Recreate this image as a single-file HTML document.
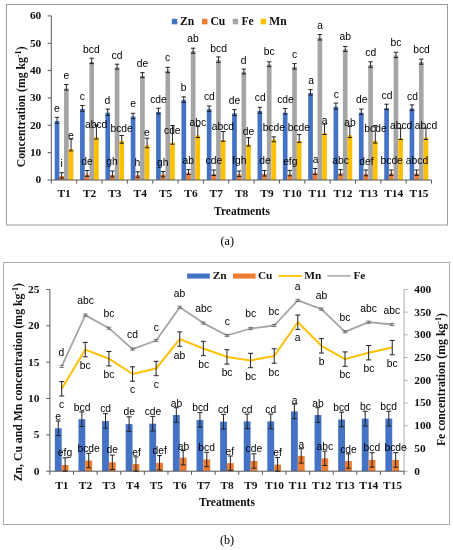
<!DOCTYPE html>
<html lang="en"><head><meta charset="utf-8"><title>Figure</title>
<style>html,body{margin:0;padding:0;background:#fff}svg{display:block}</style>
</head><body>
<svg width="453" height="550" viewBox="0 0 453 550">
<rect width="453" height="550" fill="#fff"/>
<rect x="6.5" y="4.5" width="441" height="220.5" fill="#fff" stroke="#9c9c9c" stroke-width="1"/>
<rect x="54.7" y="121" width="4.67" height="59" fill="#4472C4"/>
<rect x="59.37" y="176" width="4.67" height="4" fill="#ED7D31"/>
<rect x="64.04" y="88.5" width="4.67" height="91.5" fill="#A5A5A5"/>
<rect x="68.71" y="149.1" width="4.67" height="30.9" fill="#FFC000"/>
<path d="M57.03 117.3V123.3M54.83 117.3H59.23M54.83 123.3H59.23" stroke="#222" stroke-width="1.0" fill="none"/>
<path d="M61.7 172.7V178.2M59.5 172.7H63.91M59.5 178.2H63.91" stroke="#222" stroke-width="1.0" fill="none"/>
<path d="M66.37 84.5V90M64.17 84.5H68.57M64.17 90H68.57" stroke="#222" stroke-width="1.0" fill="none"/>
<path d="M71.04 139.1V150.9M68.84 139.1H73.24M68.84 150.9H73.24" stroke="#222" stroke-width="1.0" fill="none"/>
<rect x="80.05" y="109" width="4.67" height="71" fill="#4472C4"/>
<rect x="84.72" y="174.5" width="4.67" height="5.5" fill="#ED7D31"/>
<rect x="89.39" y="62" width="4.67" height="118" fill="#A5A5A5"/>
<rect x="94.06" y="137.3" width="4.67" height="42.7" fill="#FFC000"/>
<path d="M82.39 105.5V111.3M80.19 105.5H84.59M80.19 111.3H84.59" stroke="#222" stroke-width="1.0" fill="none"/>
<path d="M87.06 170.5V176.4M84.86 170.5H89.26M84.86 176.4H89.26" stroke="#222" stroke-width="1.0" fill="none"/>
<path d="M91.73 58.2V63.6M89.53 58.2H93.93M89.53 63.6H93.93" stroke="#222" stroke-width="1.0" fill="none"/>
<path d="M96.4 125V139.1M94.2 125H98.6M94.2 139.1H98.6" stroke="#222" stroke-width="1.0" fill="none"/>
<rect x="105.4" y="112.7" width="4.67" height="67.3" fill="#4472C4"/>
<rect x="110.07" y="174.9" width="4.67" height="5.1" fill="#ED7D31"/>
<rect x="114.74" y="67.5" width="4.67" height="112.5" fill="#A5A5A5"/>
<rect x="119.41" y="140.9" width="4.67" height="39.1" fill="#FFC000"/>
<path d="M107.73 109.1V115.5M105.53 109.1H109.94M105.53 115.5H109.94" stroke="#222" stroke-width="1.0" fill="none"/>
<path d="M112.41 171V177M110.2 171H114.61M110.2 177H114.61" stroke="#222" stroke-width="1.0" fill="none"/>
<path d="M117.08 64.2V69.1M114.88 64.2H119.28M114.88 69.1H119.28" stroke="#222" stroke-width="1.0" fill="none"/>
<path d="M121.75 135.5V143.3M119.55 135.5H123.95M119.55 143.3H123.95" stroke="#222" stroke-width="1.0" fill="none"/>
<rect x="130.75" y="116.5" width="4.67" height="63.5" fill="#4472C4"/>
<rect x="135.42" y="175.1" width="4.67" height="4.9" fill="#ED7D31"/>
<rect x="140.09" y="75.8" width="4.67" height="104.2" fill="#A5A5A5"/>
<rect x="144.76" y="145.5" width="4.67" height="34.5" fill="#FFC000"/>
<path d="M133.09 113.3V118.7M130.89 113.3H135.28M130.89 118.7H135.28" stroke="#222" stroke-width="1.0" fill="none"/>
<path d="M137.75 171.8V177.3M135.56 171.8H139.95M135.56 177.3H139.95" stroke="#222" stroke-width="1.0" fill="none"/>
<path d="M142.43 72.7V77.6M140.23 72.7H144.62M140.23 77.6H144.62" stroke="#222" stroke-width="1.0" fill="none"/>
<path d="M147.09 138.2V147.8M144.9 138.2H149.29M144.9 147.8H149.29" stroke="#222" stroke-width="1.0" fill="none"/>
<rect x="156.1" y="112" width="4.67" height="68" fill="#4472C4"/>
<rect x="160.77" y="174.5" width="4.67" height="5.5" fill="#ED7D31"/>
<rect x="165.44" y="70.5" width="4.67" height="109.5" fill="#A5A5A5"/>
<rect x="170.11" y="142.7" width="4.67" height="37.3" fill="#FFC000"/>
<path d="M158.44 108.2V114M156.24 108.2H160.63M156.24 114H160.63" stroke="#222" stroke-width="1.0" fill="none"/>
<path d="M163.1 171.5V176.9M160.91 171.5H165.3M160.91 176.9H165.3" stroke="#222" stroke-width="1.0" fill="none"/>
<path d="M167.78 67.3V72.7M165.58 67.3H169.97M165.58 72.7H169.97" stroke="#222" stroke-width="1.0" fill="none"/>
<path d="M172.44 125.5V144.2M170.25 125.5H174.64M170.25 144.2H174.64" stroke="#222" stroke-width="1.0" fill="none"/>
<rect x="181.45" y="100" width="4.67" height="80" fill="#4472C4"/>
<rect x="186.12" y="172.7" width="4.67" height="7.3" fill="#ED7D31"/>
<rect x="190.79" y="51" width="4.67" height="129" fill="#A5A5A5"/>
<rect x="195.46" y="135.5" width="4.67" height="44.5" fill="#FFC000"/>
<path d="M183.79 96.9V102.4M181.59 96.9H185.99M181.59 102.4H185.99" stroke="#222" stroke-width="1.0" fill="none"/>
<path d="M188.46 169.6V174.5M186.26 169.6H190.66M186.26 174.5H190.66" stroke="#222" stroke-width="1.0" fill="none"/>
<path d="M193.13 48.2V53.3M190.93 48.2H195.33M190.93 53.3H195.33" stroke="#222" stroke-width="1.0" fill="none"/>
<path d="M197.8 126.4V137.6M195.6 126.4H200M195.6 137.6H200" stroke="#222" stroke-width="1.0" fill="none"/>
<rect x="206.8" y="109.1" width="4.67" height="70.9" fill="#4472C4"/>
<rect x="211.47" y="174" width="4.67" height="6" fill="#ED7D31"/>
<rect x="216.14" y="60" width="4.67" height="120" fill="#A5A5A5"/>
<rect x="220.81" y="140" width="4.67" height="40" fill="#FFC000"/>
<path d="M209.14 106V111.5M206.94 106H211.34M206.94 111.5H211.34" stroke="#222" stroke-width="1.0" fill="none"/>
<path d="M213.81 170V175.5M211.61 170H216.01M211.61 175.5H216.01" stroke="#222" stroke-width="1.0" fill="none"/>
<path d="M218.48 56.9V62.4M216.28 56.9H220.68M216.28 62.4H220.68" stroke="#222" stroke-width="1.0" fill="none"/>
<path d="M223.15 131.5V141.3M220.95 131.5H225.35M220.95 141.3H225.35" stroke="#222" stroke-width="1.0" fill="none"/>
<rect x="232.15" y="113.3" width="4.67" height="66.7" fill="#4472C4"/>
<rect x="236.82" y="174.5" width="4.67" height="5.5" fill="#ED7D31"/>
<rect x="241.49" y="71.8" width="4.67" height="108.2" fill="#A5A5A5"/>
<rect x="246.16" y="144.5" width="4.67" height="35.5" fill="#FFC000"/>
<path d="M234.49 109.6V115.5M232.29 109.6H236.69M232.29 115.5H236.69" stroke="#222" stroke-width="1.0" fill="none"/>
<path d="M239.16 171V176.5M236.96 171H241.35M236.96 176.5H241.35" stroke="#222" stroke-width="1.0" fill="none"/>
<path d="M243.83 69.1V74M241.63 69.1H246.03M241.63 74H246.03" stroke="#222" stroke-width="1.0" fill="none"/>
<path d="M248.5 137.6V146M246.3 137.6H250.69M246.3 146H250.69" stroke="#222" stroke-width="1.0" fill="none"/>
<rect x="257.5" y="110.9" width="4.67" height="69.1" fill="#4472C4"/>
<rect x="262.17" y="174" width="4.67" height="6" fill="#ED7D31"/>
<rect x="266.84" y="64.5" width="4.67" height="115.5" fill="#A5A5A5"/>
<rect x="271.51" y="139.5" width="4.67" height="40.5" fill="#FFC000"/>
<path d="M259.83 107.3V113.3M257.63 107.3H262.03M257.63 113.3H262.03" stroke="#222" stroke-width="1.0" fill="none"/>
<path d="M264.5 170.5V176M262.31 170.5H266.7M262.31 176H266.7" stroke="#222" stroke-width="1.0" fill="none"/>
<path d="M269.17 61.8V66.7M266.97 61.8H271.37M266.97 66.7H271.37" stroke="#222" stroke-width="1.0" fill="none"/>
<path d="M273.84 136.9V141.8M271.64 136.9H276.04M271.64 141.8H276.04" stroke="#222" stroke-width="1.0" fill="none"/>
<rect x="282.85" y="112.7" width="4.67" height="67.3" fill="#4472C4"/>
<rect x="287.52" y="174.5" width="4.67" height="5.5" fill="#ED7D31"/>
<rect x="292.19" y="66.8" width="4.67" height="113.2" fill="#A5A5A5"/>
<rect x="296.86" y="140.9" width="4.67" height="39.1" fill="#FFC000"/>
<path d="M285.18 108.5V114M282.98 108.5H287.38M282.98 114H287.38" stroke="#222" stroke-width="1.0" fill="none"/>
<path d="M289.85 170.4V175.8M287.65 170.4H292.05M287.65 175.8H292.05" stroke="#222" stroke-width="1.0" fill="none"/>
<path d="M294.52 63.6V69.1M292.32 63.6H296.72M292.32 69.1H296.72" stroke="#222" stroke-width="1.0" fill="none"/>
<path d="M299.19 134.5V142.4M296.99 134.5H301.39M296.99 142.4H301.39" stroke="#222" stroke-width="1.0" fill="none"/>
<rect x="308.2" y="93" width="4.67" height="87" fill="#4472C4"/>
<rect x="312.87" y="172.7" width="4.67" height="7.3" fill="#ED7D31"/>
<rect x="317.54" y="37.8" width="4.67" height="142.2" fill="#A5A5A5"/>
<rect x="322.21" y="133.3" width="4.67" height="46.7" fill="#FFC000"/>
<path d="M310.53 89.6V95.1M308.33 89.6H312.73M308.33 95.1H312.73" stroke="#222" stroke-width="1.0" fill="none"/>
<path d="M315.2 168.5V174.5M313 168.5H317.4M313 174.5H317.4" stroke="#222" stroke-width="1.0" fill="none"/>
<path d="M319.87 34.5V40M317.67 34.5H322.07M317.67 40H322.07" stroke="#222" stroke-width="1.0" fill="none"/>
<path d="M324.54 124.2V134.5M322.34 124.2H326.74M322.34 134.5H326.74" stroke="#222" stroke-width="1.0" fill="none"/>
<rect x="333.55" y="106.8" width="4.67" height="73.2" fill="#4472C4"/>
<rect x="338.22" y="173.3" width="4.67" height="6.7" fill="#ED7D31"/>
<rect x="342.89" y="49.3" width="4.67" height="130.7" fill="#A5A5A5"/>
<rect x="347.56" y="135.3" width="4.67" height="44.7" fill="#FFC000"/>
<path d="M335.88 103.1V109.1M333.69 103.1H338.08M333.69 109.1H338.08" stroke="#222" stroke-width="1.0" fill="none"/>
<path d="M340.56 169.6V175.1M338.36 169.6H342.75M338.36 175.1H342.75" stroke="#222" stroke-width="1.0" fill="none"/>
<path d="M345.22 46.4V51.5M343.02 46.4H347.42M343.02 51.5H347.42" stroke="#222" stroke-width="1.0" fill="none"/>
<path d="M349.89 126.4V137.6M347.69 126.4H352.09M347.69 137.6H352.09" stroke="#222" stroke-width="1.0" fill="none"/>
<rect x="358.9" y="112.7" width="4.67" height="67.3" fill="#4472C4"/>
<rect x="363.57" y="174" width="4.67" height="6" fill="#ED7D31"/>
<rect x="368.24" y="65" width="4.67" height="115" fill="#A5A5A5"/>
<rect x="372.91" y="140.9" width="4.67" height="39.1" fill="#FFC000"/>
<path d="M361.24 109.1V114.5M359.04 109.1H363.44M359.04 114.5H363.44" stroke="#222" stroke-width="1.0" fill="none"/>
<path d="M365.91 170V175.8M363.71 170H368.11M363.71 175.8H368.11" stroke="#222" stroke-width="1.0" fill="none"/>
<path d="M370.57 61.8V67.3M368.38 61.8H372.77M368.38 67.3H372.77" stroke="#222" stroke-width="1.0" fill="none"/>
<path d="M375.25 125.5V143.1M373.05 125.5H377.44M373.05 143.1H377.44" stroke="#222" stroke-width="1.0" fill="none"/>
<rect x="384.25" y="108.2" width="4.67" height="71.8" fill="#4472C4"/>
<rect x="388.92" y="173.3" width="4.67" height="6.7" fill="#ED7D31"/>
<rect x="393.59" y="55.5" width="4.67" height="124.5" fill="#A5A5A5"/>
<rect x="398.26" y="138.2" width="4.67" height="41.8" fill="#FFC000"/>
<path d="M386.58 104.2V109.6M384.38 104.2H388.78M384.38 109.6H388.78" stroke="#222" stroke-width="1.0" fill="none"/>
<path d="M391.25 170V175.5M389.06 170H393.45M389.06 175.5H393.45" stroke="#222" stroke-width="1.0" fill="none"/>
<path d="M395.92 52.2V57.6M393.72 52.2H398.12M393.72 57.6H398.12" stroke="#222" stroke-width="1.0" fill="none"/>
<path d="M400.59 128.2V139.5M398.39 128.2H402.79M398.39 139.5H402.79" stroke="#222" stroke-width="1.0" fill="none"/>
<rect x="409.6" y="108.5" width="4.67" height="71.5" fill="#4472C4"/>
<rect x="414.27" y="173.3" width="4.67" height="6.7" fill="#ED7D31"/>
<rect x="418.94" y="62" width="4.67" height="118" fill="#A5A5A5"/>
<rect x="423.61" y="137.6" width="4.67" height="42.4" fill="#FFC000"/>
<path d="M411.94 104.9V110.4M409.74 104.9H414.13M409.74 110.4H414.13" stroke="#222" stroke-width="1.0" fill="none"/>
<path d="M416.61 170V175.5M414.41 170H418.81M414.41 175.5H418.81" stroke="#222" stroke-width="1.0" fill="none"/>
<path d="M421.27 59.1V64.2M419.07 59.1H423.47M419.07 64.2H423.47" stroke="#222" stroke-width="1.0" fill="none"/>
<path d="M425.94 128V139.5M423.75 128H428.14M423.75 139.5H428.14" stroke="#222" stroke-width="1.0" fill="none"/>
<path d="M51.3 15.9V180.0H431.6" stroke="#595959" stroke-width="1" fill="none"/>
<path d="M47.7 180H51.3M47.7 152.65H51.3M47.7 125.3H51.3M47.7 97.95H51.3M47.7 70.6H51.3M47.7 43.25H51.3M47.7 15.9H51.3M51.3 180.0V183.6M76.65 180.0V183.6M102 180.0V183.6M127.35 180.0V183.6M152.7 180.0V183.6M178.05 180.0V183.6M203.4 180.0V183.6M228.75 180.0V183.6M254.1 180.0V183.6M279.45 180.0V183.6M304.8 180.0V183.6M330.15 180.0V183.6M355.5 180.0V183.6M380.85 180.0V183.6M406.2 180.0V183.6M431.55 180.0V183.6" stroke="#595959" stroke-width="1" fill="none"/>
<text x="41.3" y="183.4" text-anchor="end" font-family='"Liberation Serif", "Times New Roman", serif' font-weight="bold" font-size="11.4" fill="#111">0</text>
<text x="41.3" y="156.05" text-anchor="end" font-family='"Liberation Serif", "Times New Roman", serif' font-weight="bold" font-size="11.4" fill="#111">10</text>
<text x="41.3" y="128.7" text-anchor="end" font-family='"Liberation Serif", "Times New Roman", serif' font-weight="bold" font-size="11.4" fill="#111">20</text>
<text x="41.3" y="101.35" text-anchor="end" font-family='"Liberation Serif", "Times New Roman", serif' font-weight="bold" font-size="11.4" fill="#111">30</text>
<text x="41.3" y="74" text-anchor="end" font-family='"Liberation Serif", "Times New Roman", serif' font-weight="bold" font-size="11.4" fill="#111">40</text>
<text x="41.3" y="46.65" text-anchor="end" font-family='"Liberation Serif", "Times New Roman", serif' font-weight="bold" font-size="11.4" fill="#111">50</text>
<text x="41.3" y="19.3" text-anchor="end" font-family='"Liberation Serif", "Times New Roman", serif' font-weight="bold" font-size="11.4" fill="#111">60</text>
<text x="64.17" y="196.9" text-anchor="middle" font-family='"Liberation Serif", "Times New Roman", serif' font-weight="bold" font-size="11.4" fill="#111">T1</text>
<text x="89.53" y="196.9" text-anchor="middle" font-family='"Liberation Serif", "Times New Roman", serif' font-weight="bold" font-size="11.4" fill="#111">T2</text>
<text x="114.88" y="196.9" text-anchor="middle" font-family='"Liberation Serif", "Times New Roman", serif' font-weight="bold" font-size="11.4" fill="#111">T3</text>
<text x="140.22" y="196.9" text-anchor="middle" font-family='"Liberation Serif", "Times New Roman", serif' font-weight="bold" font-size="11.4" fill="#111">T4</text>
<text x="165.57" y="196.9" text-anchor="middle" font-family='"Liberation Serif", "Times New Roman", serif' font-weight="bold" font-size="11.4" fill="#111">T5</text>
<text x="190.93" y="196.9" text-anchor="middle" font-family='"Liberation Serif", "Times New Roman", serif' font-weight="bold" font-size="11.4" fill="#111">T6</text>
<text x="216.27" y="196.9" text-anchor="middle" font-family='"Liberation Serif", "Times New Roman", serif' font-weight="bold" font-size="11.4" fill="#111">T7</text>
<text x="241.62" y="196.9" text-anchor="middle" font-family='"Liberation Serif", "Times New Roman", serif' font-weight="bold" font-size="11.4" fill="#111">T8</text>
<text x="266.98" y="196.9" text-anchor="middle" font-family='"Liberation Serif", "Times New Roman", serif' font-weight="bold" font-size="11.4" fill="#111">T9</text>
<text x="292.32" y="196.9" text-anchor="middle" font-family='"Liberation Serif", "Times New Roman", serif' font-weight="bold" font-size="11.4" fill="#111">T10</text>
<text x="317.68" y="196.9" text-anchor="middle" font-family='"Liberation Serif", "Times New Roman", serif' font-weight="bold" font-size="11.4" fill="#111">T11</text>
<text x="343.03" y="196.9" text-anchor="middle" font-family='"Liberation Serif", "Times New Roman", serif' font-weight="bold" font-size="11.4" fill="#111">T12</text>
<text x="368.38" y="196.9" text-anchor="middle" font-family='"Liberation Serif", "Times New Roman", serif' font-weight="bold" font-size="11.4" fill="#111">T13</text>
<text x="393.73" y="196.9" text-anchor="middle" font-family='"Liberation Serif", "Times New Roman", serif' font-weight="bold" font-size="11.4" fill="#111">T14</text>
<text x="419.08" y="196.9" text-anchor="middle" font-family='"Liberation Serif", "Times New Roman", serif' font-weight="bold" font-size="11.4" fill="#111">T15</text>
<text x="242" y="214.9" text-anchor="middle" font-family='"Liberation Serif", "Times New Roman", serif' font-weight="bold" font-size="11.5" fill="#111">Treatments</text>
<text transform="translate(24.7 106.9) rotate(-90)" text-anchor="middle" font-family='"Liberation Serif", "Times New Roman", serif' font-weight="bold" font-size="11.75" fill="#111">Concentration (mg kg<tspan dy="-3.8" font-size="8">-1</tspan><tspan dy="3.8">)</tspan></text>
<rect x="171.8" y="18.8" width="5.5" height="5.5" fill="#4472C4"/>
<text x="180" y="24.7" text-anchor="start" font-family='"Liberation Serif", "Times New Roman", serif' font-weight="bold" font-size="11.6" fill="#111">Zn</text>
<rect x="202" y="18.8" width="5.5" height="5.5" fill="#ED7D31"/>
<text x="210.5" y="24.7" text-anchor="start" font-family='"Liberation Serif", "Times New Roman", serif' font-weight="bold" font-size="11.6" fill="#111">Cu</text>
<rect x="232.7" y="18.8" width="5.5" height="5.5" fill="#A5A5A5"/>
<text x="241.4" y="24.7" text-anchor="start" font-family='"Liberation Serif", "Times New Roman", serif' font-weight="bold" font-size="11.6" fill="#111">Fe</text>
<rect x="260.6" y="18.8" width="5.5" height="5.5" fill="#FFC000"/>
<text x="269.2" y="24.7" text-anchor="start" font-family='"Liberation Serif", "Times New Roman", serif' font-weight="bold" font-size="11.6" fill="#111">Mn</text>
<text x="56.8" y="111.8" text-anchor="middle" font-family='"Liberation Sans", Arial, sans-serif' font-size="10.3" fill="#000">e</text>
<text x="82.3" y="100.4" text-anchor="middle" font-family='"Liberation Sans", Arial, sans-serif' font-size="10.3" fill="#000">c</text>
<text x="107.4" y="103.6" text-anchor="middle" font-family='"Liberation Sans", Arial, sans-serif' font-size="10.3" fill="#000">d</text>
<text x="133.1" y="107.3" text-anchor="middle" font-family='"Liberation Sans", Arial, sans-serif' font-size="10.3" fill="#000">e</text>
<text x="158.5" y="103.3" text-anchor="middle" font-family='"Liberation Sans", Arial, sans-serif' font-size="10.3" fill="#000">cde</text>
<text x="183.6" y="90.9" text-anchor="middle" font-family='"Liberation Sans", Arial, sans-serif' font-size="10.3" fill="#000">b</text>
<text x="209.4" y="99.5" text-anchor="middle" font-family='"Liberation Sans", Arial, sans-serif' font-size="10.3" fill="#000">cd</text>
<text x="234.6" y="104.2" text-anchor="middle" font-family='"Liberation Sans", Arial, sans-serif' font-size="10.3" fill="#000">de</text>
<text x="260.3" y="101.4" text-anchor="middle" font-family='"Liberation Sans", Arial, sans-serif' font-size="10.3" fill="#000">cd</text>
<text x="285.5" y="102.7" text-anchor="middle" font-family='"Liberation Sans", Arial, sans-serif' font-size="10.3" fill="#000">cde</text>
<text x="311" y="83.6" text-anchor="middle" font-family='"Liberation Sans", Arial, sans-serif' font-size="10.3" fill="#000">a</text>
<text x="336.4" y="97.5" text-anchor="middle" font-family='"Liberation Sans", Arial, sans-serif' font-size="10.3" fill="#000">c</text>
<text x="361.8" y="103.1" text-anchor="middle" font-family='"Liberation Sans", Arial, sans-serif' font-size="10.3" fill="#000">de</text>
<text x="387" y="98.7" text-anchor="middle" font-family='"Liberation Sans", Arial, sans-serif' font-size="10.3" fill="#000">cd</text>
<text x="412.5" y="99.5" text-anchor="middle" font-family='"Liberation Sans", Arial, sans-serif' font-size="10.3" fill="#000">cd</text>
<text x="66.3" y="79.1" text-anchor="middle" font-family='"Liberation Sans", Arial, sans-serif' font-size="10.3" fill="#000">e</text>
<text x="91.4" y="52.7" text-anchor="middle" font-family='"Liberation Sans", Arial, sans-serif' font-size="10.3" fill="#000">bcd</text>
<text x="117" y="58.5" text-anchor="middle" font-family='"Liberation Sans", Arial, sans-serif' font-size="10.3" fill="#000">cd</text>
<text x="142.4" y="66.7" text-anchor="middle" font-family='"Liberation Sans", Arial, sans-serif' font-size="10.3" fill="#000">de</text>
<text x="167.6" y="60.9" text-anchor="middle" font-family='"Liberation Sans", Arial, sans-serif' font-size="10.3" fill="#000">c</text>
<text x="192.9" y="42.4" text-anchor="middle" font-family='"Liberation Sans", Arial, sans-serif' font-size="10.3" fill="#000">ab</text>
<text x="218.6" y="51.5" text-anchor="middle" font-family='"Liberation Sans", Arial, sans-serif' font-size="10.3" fill="#000">bcd</text>
<text x="243.7" y="63.6" text-anchor="middle" font-family='"Liberation Sans", Arial, sans-serif' font-size="10.3" fill="#000">d</text>
<text x="269.2" y="55.1" text-anchor="middle" font-family='"Liberation Sans", Arial, sans-serif' font-size="10.3" fill="#000">bc</text>
<text x="294.5" y="58.2" text-anchor="middle" font-family='"Liberation Sans", Arial, sans-serif' font-size="10.3" fill="#000">c</text>
<text x="320" y="28.5" text-anchor="middle" font-family='"Liberation Sans", Arial, sans-serif' font-size="10.3" fill="#000">a</text>
<text x="345.3" y="40" text-anchor="middle" font-family='"Liberation Sans", Arial, sans-serif' font-size="10.3" fill="#000">ab</text>
<text x="370.8" y="55.8" text-anchor="middle" font-family='"Liberation Sans", Arial, sans-serif' font-size="10.3" fill="#000">cd</text>
<text x="396" y="46.4" text-anchor="middle" font-family='"Liberation Sans", Arial, sans-serif' font-size="10.3" fill="#000">bc</text>
<text x="421.5" y="53.3" text-anchor="middle" font-family='"Liberation Sans", Arial, sans-serif' font-size="10.3" fill="#000">bcd</text>
<text x="61.7" y="166.9" text-anchor="middle" font-family='"Liberation Sans", Arial, sans-serif' font-size="10.3" fill="#000">i</text>
<text x="87" y="165.1" text-anchor="middle" font-family='"Liberation Sans", Arial, sans-serif' font-size="10.3" fill="#000">de</text>
<text x="112.1" y="165.1" text-anchor="middle" font-family='"Liberation Sans", Arial, sans-serif' font-size="10.3" fill="#000">gh</text>
<text x="137.3" y="165.5" text-anchor="middle" font-family='"Liberation Sans", Arial, sans-serif' font-size="10.3" fill="#000">h</text>
<text x="162.8" y="165.5" text-anchor="middle" font-family='"Liberation Sans", Arial, sans-serif' font-size="10.3" fill="#000">gh</text>
<text x="188.2" y="163.6" text-anchor="middle" font-family='"Liberation Sans", Arial, sans-serif' font-size="10.3" fill="#000">ab</text>
<text x="213.9" y="164.2" text-anchor="middle" font-family='"Liberation Sans", Arial, sans-serif' font-size="10.3" fill="#000">cde</text>
<text x="239.4" y="164.2" text-anchor="middle" font-family='"Liberation Sans", Arial, sans-serif' font-size="10.3" fill="#000">fgh</text>
<text x="265" y="164.2" text-anchor="middle" font-family='"Liberation Sans", Arial, sans-serif' font-size="10.3" fill="#000">de</text>
<text x="290.3" y="164.9" text-anchor="middle" font-family='"Liberation Sans", Arial, sans-serif' font-size="10.3" fill="#000">efg</text>
<text x="315.5" y="162.7" text-anchor="middle" font-family='"Liberation Sans", Arial, sans-serif' font-size="10.3" fill="#000">a</text>
<text x="340.6" y="163.6" text-anchor="middle" font-family='"Liberation Sans", Arial, sans-serif' font-size="10.3" fill="#000">abc</text>
<text x="366.5" y="164.5" text-anchor="middle" font-family='"Liberation Sans", Arial, sans-serif' font-size="10.3" fill="#000">def</text>
<text x="391.7" y="164.2" text-anchor="middle" font-family='"Liberation Sans", Arial, sans-serif' font-size="10.3" fill="#000">bcde</text>
<text x="417" y="164.2" text-anchor="middle" font-family='"Liberation Sans", Arial, sans-serif' font-size="10.3" fill="#000">abcd</text>
<text x="70.8" y="139.1" text-anchor="middle" font-family='"Liberation Sans", Arial, sans-serif' font-size="10.3" fill="#000">e</text>
<text x="96.2" y="128.2" text-anchor="middle" font-family='"Liberation Sans", Arial, sans-serif' font-size="10.3" fill="#000">abcd</text>
<text x="121.6" y="132.3" text-anchor="middle" font-family='"Liberation Sans", Arial, sans-serif' font-size="10.3" fill="#000">bcde</text>
<text x="146.9" y="136.4" text-anchor="middle" font-family='"Liberation Sans", Arial, sans-serif' font-size="10.3" fill="#000">e</text>
<text x="172.3" y="133.6" text-anchor="middle" font-family='"Liberation Sans", Arial, sans-serif' font-size="10.3" fill="#000">cde</text>
<text x="197.8" y="126.4" text-anchor="middle" font-family='"Liberation Sans", Arial, sans-serif' font-size="10.3" fill="#000">abc</text>
<text x="222.9" y="129.6" text-anchor="middle" font-family='"Liberation Sans", Arial, sans-serif' font-size="10.3" fill="#000">abcd</text>
<text x="248.4" y="134.5" text-anchor="middle" font-family='"Liberation Sans", Arial, sans-serif' font-size="10.3" fill="#000">de</text>
<text x="273.8" y="130.9" text-anchor="middle" font-family='"Liberation Sans", Arial, sans-serif' font-size="10.3" fill="#000">bcde</text>
<text x="298.9" y="130.9" text-anchor="middle" font-family='"Liberation Sans", Arial, sans-serif' font-size="10.3" fill="#000">bcde</text>
<text x="324.5" y="123.6" text-anchor="middle" font-family='"Liberation Sans", Arial, sans-serif' font-size="10.3" fill="#000">a</text>
<text x="350" y="125.5" text-anchor="middle" font-family='"Liberation Sans", Arial, sans-serif' font-size="10.3" fill="#000">ab</text>
<text x="375.5" y="131.8" text-anchor="middle" font-family='"Liberation Sans", Arial, sans-serif' font-size="10.3" fill="#000">bcde</text>
<text x="401.2" y="128.5" text-anchor="middle" font-family='"Liberation Sans", Arial, sans-serif' font-size="10.3" fill="#000">abcd</text>
<text x="426" y="128.5" text-anchor="middle" font-family='"Liberation Sans", Arial, sans-serif' font-size="10.3" fill="#000">abcd</text>
<text x="227.3" y="245.2" text-anchor="middle" font-family='"Liberation Serif", "Times New Roman", serif' font-size="12.2" fill="#000">(a)</text>
<rect x="3.5" y="262.5" width="446" height="262" fill="#fff" stroke="#ababab" stroke-width="1"/>
<rect x="54.85" y="428.3" width="6.85" height="42.9" fill="#4472C4"/>
<rect x="61.7" y="465" width="6.85" height="6.2" fill="#ED7D31"/>
<rect x="78.46" y="419.2" width="6.85" height="52" fill="#4472C4"/>
<rect x="85.31" y="460.5" width="6.85" height="10.7" fill="#ED7D31"/>
<rect x="102.07" y="421" width="6.85" height="50.2" fill="#4472C4"/>
<rect x="108.92" y="462.3" width="6.85" height="8.9" fill="#ED7D31"/>
<rect x="125.68" y="424.1" width="6.85" height="47.1" fill="#4472C4"/>
<rect x="132.53" y="464.1" width="6.85" height="7.1" fill="#ED7D31"/>
<rect x="149.29" y="423.7" width="6.85" height="47.5" fill="#4472C4"/>
<rect x="156.14" y="462.8" width="6.85" height="8.4" fill="#ED7D31"/>
<rect x="172.9" y="415" width="6.85" height="56.2" fill="#4472C4"/>
<rect x="179.75" y="457.7" width="6.85" height="13.5" fill="#ED7D31"/>
<rect x="196.51" y="419.9" width="6.85" height="51.3" fill="#4472C4"/>
<rect x="203.36" y="459.5" width="6.85" height="11.7" fill="#ED7D31"/>
<rect x="220.12" y="421.7" width="6.85" height="49.5" fill="#4472C4"/>
<rect x="226.97" y="463.2" width="6.85" height="8" fill="#ED7D31"/>
<rect x="243.73" y="421.4" width="6.85" height="49.8" fill="#4472C4"/>
<rect x="250.58" y="461" width="6.85" height="10.2" fill="#ED7D31"/>
<rect x="267.34" y="421.4" width="6.85" height="49.8" fill="#4472C4"/>
<rect x="274.19" y="464.6" width="6.85" height="6.6" fill="#ED7D31"/>
<rect x="290.95" y="411.4" width="6.85" height="59.8" fill="#4472C4"/>
<rect x="297.8" y="455.9" width="6.85" height="15.3" fill="#ED7D31"/>
<rect x="314.56" y="415" width="6.85" height="56.2" fill="#4472C4"/>
<rect x="321.41" y="458.3" width="6.85" height="12.9" fill="#ED7D31"/>
<rect x="338.17" y="419.5" width="6.85" height="51.7" fill="#4472C4"/>
<rect x="345.02" y="461" width="6.85" height="10.2" fill="#ED7D31"/>
<rect x="361.78" y="418.6" width="6.85" height="52.6" fill="#4472C4"/>
<rect x="368.63" y="459.9" width="6.85" height="11.3" fill="#ED7D31"/>
<rect x="385.39" y="418.6" width="6.85" height="52.6" fill="#4472C4"/>
<rect x="392.24" y="459.9" width="6.85" height="11.3" fill="#ED7D31"/>
<path d="M404.1 289.2V471.2M404.1 471.2H407.7M404.1 448.47H407.7M404.1 425.75H407.7M404.1 403.02H407.7M404.1 380.3H407.7M404.1 357.57H407.7M404.1 334.85H407.7M404.1 312.12H407.7M404.1 289.4H407.7" stroke="#ADADAD" stroke-width="1" fill="none"/>
<path d="M49.9 289.2V471.2H404.6M46.3 471.2H49.9M46.3 434.85H49.9M46.3 398.5H49.9M46.3 362.15H49.9M46.3 325.8H49.9M46.3 289.45H49.9M49.9 471.2V474.8M73.51 471.2V474.8M97.12 471.2V474.8M120.73 471.2V474.8M144.34 471.2V474.8M167.95 471.2V474.8M191.56 471.2V474.8M215.17 471.2V474.8M238.78 471.2V474.8M262.39 471.2V474.8M286 471.2V474.8M309.61 471.2V474.8M333.22 471.2V474.8M356.83 471.2V474.8M380.44 471.2V474.8M404.05 471.2V474.8" stroke="#595959" stroke-width="1" fill="none"/>
<polyline points="61.7,388.8 85.31,349.6 108.92,358.7 132.53,374 156.14,368.5 179.75,339.1 203.36,348.5 226.97,356.9 250.58,360.5 274.19,356 297.8,322.2 321.41,345.8 345.02,359.1 368.63,352.7 392.24,347.6" fill="none" stroke="#FFC000" stroke-width="2" stroke-linejoin="round"/>
<polyline points="61.7,366.4 85.31,315.1 108.92,328.2 132.53,349.1 156.14,340.5 179.75,307.3 203.36,323.1 226.97,335.5 250.58,328.5 274.19,325.5 297.8,300.4 321.41,309.1 345.02,331.8 368.63,322.2 392.24,324.5" fill="none" stroke="#A5A5A5" stroke-width="1.8" stroke-linejoin="round"/>
<path d="M58.28 421V435.6M55.78 421H60.78M55.78 435.6H60.78" stroke="#222" stroke-width="1.0" fill="none"/>
<path d="M65.12 457.8V471.2M62.62 457.8H67.62M62.62 471.2H67.62" stroke="#222" stroke-width="1.0" fill="none"/>
<path d="M61.7 381.6V396M59.2 381.6H64.2M59.2 396H64.2" stroke="#222" stroke-width="1.0" fill="none"/>
<path d="M61.7 365.3V367.5M59.2 365.3H64.2M59.2 367.5H64.2" stroke="#555" stroke-width="0.7" fill="none"/>
<path d="M81.89 411.9V426.5M79.39 411.9H84.39M79.39 426.5H84.39" stroke="#222" stroke-width="1.0" fill="none"/>
<path d="M88.73 453.3V467.7M86.23 453.3H91.23M86.23 467.7H91.23" stroke="#222" stroke-width="1.0" fill="none"/>
<path d="M85.31 342.4V356.8M82.81 342.4H87.81M82.81 356.8H87.81" stroke="#222" stroke-width="1.0" fill="none"/>
<path d="M85.31 314V316.2M82.81 314H87.81M82.81 316.2H87.81" stroke="#555" stroke-width="0.7" fill="none"/>
<path d="M105.5 413.7V428.3M103 413.7H108M103 428.3H108" stroke="#222" stroke-width="1.0" fill="none"/>
<path d="M112.34 455.1V469.5M109.84 455.1H114.84M109.84 469.5H114.84" stroke="#222" stroke-width="1.0" fill="none"/>
<path d="M108.92 351.5V365.9M106.42 351.5H111.42M106.42 365.9H111.42" stroke="#222" stroke-width="1.0" fill="none"/>
<path d="M108.92 327.1V329.3M106.42 327.1H111.42M106.42 329.3H111.42" stroke="#555" stroke-width="0.7" fill="none"/>
<path d="M129.1 416.8V431.4M126.6 416.8H131.6M126.6 431.4H131.6" stroke="#222" stroke-width="1.0" fill="none"/>
<path d="M135.96 456.9V471.2M133.46 456.9H138.46M133.46 471.2H138.46" stroke="#222" stroke-width="1.0" fill="none"/>
<path d="M132.53 366.8V381.2M130.03 366.8H135.03M130.03 381.2H135.03" stroke="#222" stroke-width="1.0" fill="none"/>
<path d="M132.53 348V350.2M130.03 348H135.03M130.03 350.2H135.03" stroke="#555" stroke-width="0.7" fill="none"/>
<path d="M152.71 416.4V431M150.21 416.4H155.21M150.21 431H155.21" stroke="#222" stroke-width="1.0" fill="none"/>
<path d="M159.56 455.6V470M157.06 455.6H162.06M157.06 470H162.06" stroke="#222" stroke-width="1.0" fill="none"/>
<path d="M156.14 361.3V375.7M153.64 361.3H158.64M153.64 375.7H158.64" stroke="#222" stroke-width="1.0" fill="none"/>
<path d="M156.14 339.4V341.6M153.64 339.4H158.64M153.64 341.6H158.64" stroke="#555" stroke-width="0.7" fill="none"/>
<path d="M176.32 407.7V422.3M173.82 407.7H178.82M173.82 422.3H178.82" stroke="#222" stroke-width="1.0" fill="none"/>
<path d="M183.18 450.5V464.9M180.68 450.5H185.68M180.68 464.9H185.68" stroke="#222" stroke-width="1.0" fill="none"/>
<path d="M179.75 331.9V346.3M177.25 331.9H182.25M177.25 346.3H182.25" stroke="#222" stroke-width="1.0" fill="none"/>
<path d="M179.75 306.2V308.4M177.25 306.2H182.25M177.25 308.4H182.25" stroke="#555" stroke-width="0.7" fill="none"/>
<path d="M199.94 412.6V427.2M197.44 412.6H202.44M197.44 427.2H202.44" stroke="#222" stroke-width="1.0" fill="none"/>
<path d="M206.79 452.3V466.7M204.29 452.3H209.29M204.29 466.7H209.29" stroke="#222" stroke-width="1.0" fill="none"/>
<path d="M203.36 341.3V355.7M200.86 341.3H205.86M200.86 355.7H205.86" stroke="#222" stroke-width="1.0" fill="none"/>
<path d="M203.36 322V324.2M200.86 322H205.86M200.86 324.2H205.86" stroke="#555" stroke-width="0.7" fill="none"/>
<path d="M223.54 414.4V429M221.04 414.4H226.04M221.04 429H226.04" stroke="#222" stroke-width="1.0" fill="none"/>
<path d="M230.39 456V470.4M227.89 456H232.89M227.89 470.4H232.89" stroke="#222" stroke-width="1.0" fill="none"/>
<path d="M226.97 349.7V364.1M224.47 349.7H229.47M224.47 364.1H229.47" stroke="#222" stroke-width="1.0" fill="none"/>
<path d="M226.97 334.4V336.6M224.47 334.4H229.47M224.47 336.6H229.47" stroke="#555" stroke-width="0.7" fill="none"/>
<path d="M247.15 414.1V428.7M244.65 414.1H249.65M244.65 428.7H249.65" stroke="#222" stroke-width="1.0" fill="none"/>
<path d="M254 453.8V468.2M251.5 453.8H256.5M251.5 468.2H256.5" stroke="#222" stroke-width="1.0" fill="none"/>
<path d="M250.58 353.3V367.7M248.08 353.3H253.08M248.08 367.7H253.08" stroke="#222" stroke-width="1.0" fill="none"/>
<path d="M250.58 327.4V329.6M248.08 327.4H253.08M248.08 329.6H253.08" stroke="#555" stroke-width="0.7" fill="none"/>
<path d="M270.76 414.1V428.7M268.26 414.1H273.26M268.26 428.7H273.26" stroke="#222" stroke-width="1.0" fill="none"/>
<path d="M277.62 457.4V471.2M275.12 457.4H280.12M275.12 471.2H280.12" stroke="#222" stroke-width="1.0" fill="none"/>
<path d="M274.19 348.8V363.2M271.69 348.8H276.69M271.69 363.2H276.69" stroke="#222" stroke-width="1.0" fill="none"/>
<path d="M274.19 324.4V326.6M271.69 324.4H276.69M271.69 326.6H276.69" stroke="#555" stroke-width="0.7" fill="none"/>
<path d="M294.38 404.1V418.7M291.88 404.1H296.88M291.88 418.7H296.88" stroke="#222" stroke-width="1.0" fill="none"/>
<path d="M301.23 448.7V463.1M298.73 448.7H303.73M298.73 463.1H303.73" stroke="#222" stroke-width="1.0" fill="none"/>
<path d="M297.8 315V329.4M295.3 315H300.3M295.3 329.4H300.3" stroke="#222" stroke-width="1.0" fill="none"/>
<path d="M297.8 299.3V301.5M295.3 299.3H300.3M295.3 301.5H300.3" stroke="#555" stroke-width="0.7" fill="none"/>
<path d="M317.98 407.7V422.3M315.48 407.7H320.48M315.48 422.3H320.48" stroke="#222" stroke-width="1.0" fill="none"/>
<path d="M324.83 451.1V465.5M322.33 451.1H327.33M322.33 465.5H327.33" stroke="#222" stroke-width="1.0" fill="none"/>
<path d="M321.41 338.6V353M318.91 338.6H323.91M318.91 353H323.91" stroke="#222" stroke-width="1.0" fill="none"/>
<path d="M321.41 308V310.2M318.91 308H323.91M318.91 310.2H323.91" stroke="#555" stroke-width="0.7" fill="none"/>
<path d="M341.59 412.2V426.8M339.09 412.2H344.09M339.09 426.8H344.09" stroke="#222" stroke-width="1.0" fill="none"/>
<path d="M348.44 453.8V468.2M345.94 453.8H350.94M345.94 468.2H350.94" stroke="#222" stroke-width="1.0" fill="none"/>
<path d="M345.02 351.9V366.3M342.52 351.9H347.52M342.52 366.3H347.52" stroke="#222" stroke-width="1.0" fill="none"/>
<path d="M345.02 330.7V332.9M342.52 330.7H347.52M342.52 332.9H347.52" stroke="#555" stroke-width="0.7" fill="none"/>
<path d="M365.2 411.3V425.9M362.7 411.3H367.7M362.7 425.9H367.7" stroke="#222" stroke-width="1.0" fill="none"/>
<path d="M372.06 452.7V467.1M369.56 452.7H374.56M369.56 467.1H374.56" stroke="#222" stroke-width="1.0" fill="none"/>
<path d="M368.63 345.5V359.9M366.13 345.5H371.13M366.13 359.9H371.13" stroke="#222" stroke-width="1.0" fill="none"/>
<path d="M368.63 321.1V323.3M366.13 321.1H371.13M366.13 323.3H371.13" stroke="#555" stroke-width="0.7" fill="none"/>
<path d="M388.81 411.3V425.9M386.31 411.3H391.31M386.31 425.9H391.31" stroke="#222" stroke-width="1.0" fill="none"/>
<path d="M395.66 452.7V467.1M393.16 452.7H398.16M393.16 467.1H398.16" stroke="#222" stroke-width="1.0" fill="none"/>
<path d="M392.24 340.4V354.8M389.74 340.4H394.74M389.74 354.8H394.74" stroke="#222" stroke-width="1.0" fill="none"/>
<path d="M392.24 323.4V325.6M389.74 323.4H394.74M389.74 325.6H394.74" stroke="#555" stroke-width="0.7" fill="none"/>
<text x="39.4" y="474.6" text-anchor="end" font-family='"Liberation Serif", "Times New Roman", serif' font-weight="bold" font-size="11.4" fill="#111">0</text>
<text x="39.4" y="438.25" text-anchor="end" font-family='"Liberation Serif", "Times New Roman", serif' font-weight="bold" font-size="11.4" fill="#111">5</text>
<text x="39.4" y="401.9" text-anchor="end" font-family='"Liberation Serif", "Times New Roman", serif' font-weight="bold" font-size="11.4" fill="#111">10</text>
<text x="39.4" y="365.55" text-anchor="end" font-family='"Liberation Serif", "Times New Roman", serif' font-weight="bold" font-size="11.4" fill="#111">15</text>
<text x="39.4" y="329.2" text-anchor="end" font-family='"Liberation Serif", "Times New Roman", serif' font-weight="bold" font-size="11.4" fill="#111">20</text>
<text x="39.4" y="292.85" text-anchor="end" font-family='"Liberation Serif", "Times New Roman", serif' font-weight="bold" font-size="11.4" fill="#111">25</text>
<text x="414.2" y="474.6" text-anchor="start" font-family='"Liberation Serif", "Times New Roman", serif' font-weight="bold" font-size="11.4" fill="#111">0</text>
<text x="414.2" y="451.87" text-anchor="start" font-family='"Liberation Serif", "Times New Roman", serif' font-weight="bold" font-size="11.4" fill="#111">50</text>
<text x="414.2" y="429.15" text-anchor="start" font-family='"Liberation Serif", "Times New Roman", serif' font-weight="bold" font-size="11.4" fill="#111">100</text>
<text x="414.2" y="406.42" text-anchor="start" font-family='"Liberation Serif", "Times New Roman", serif' font-weight="bold" font-size="11.4" fill="#111">150</text>
<text x="414.2" y="383.7" text-anchor="start" font-family='"Liberation Serif", "Times New Roman", serif' font-weight="bold" font-size="11.4" fill="#111">200</text>
<text x="414.2" y="360.97" text-anchor="start" font-family='"Liberation Serif", "Times New Roman", serif' font-weight="bold" font-size="11.4" fill="#111">250</text>
<text x="414.2" y="338.25" text-anchor="start" font-family='"Liberation Serif", "Times New Roman", serif' font-weight="bold" font-size="11.4" fill="#111">300</text>
<text x="414.2" y="315.52" text-anchor="start" font-family='"Liberation Serif", "Times New Roman", serif' font-weight="bold" font-size="11.4" fill="#111">350</text>
<text x="414.2" y="292.8" text-anchor="start" font-family='"Liberation Serif", "Times New Roman", serif' font-weight="bold" font-size="11.4" fill="#111">400</text>
<text x="61.9" y="489.2" text-anchor="middle" font-family='"Liberation Serif", "Times New Roman", serif' font-weight="bold" font-size="11.4" fill="#111">T1</text>
<text x="85.51" y="489.2" text-anchor="middle" font-family='"Liberation Serif", "Times New Roman", serif' font-weight="bold" font-size="11.4" fill="#111">T2</text>
<text x="109.12" y="489.2" text-anchor="middle" font-family='"Liberation Serif", "Times New Roman", serif' font-weight="bold" font-size="11.4" fill="#111">T3</text>
<text x="132.73" y="489.2" text-anchor="middle" font-family='"Liberation Serif", "Times New Roman", serif' font-weight="bold" font-size="11.4" fill="#111">T4</text>
<text x="156.34" y="489.2" text-anchor="middle" font-family='"Liberation Serif", "Times New Roman", serif' font-weight="bold" font-size="11.4" fill="#111">T5</text>
<text x="179.95" y="489.2" text-anchor="middle" font-family='"Liberation Serif", "Times New Roman", serif' font-weight="bold" font-size="11.4" fill="#111">T6</text>
<text x="203.56" y="489.2" text-anchor="middle" font-family='"Liberation Serif", "Times New Roman", serif' font-weight="bold" font-size="11.4" fill="#111">T7</text>
<text x="227.17" y="489.2" text-anchor="middle" font-family='"Liberation Serif", "Times New Roman", serif' font-weight="bold" font-size="11.4" fill="#111">T8</text>
<text x="250.78" y="489.2" text-anchor="middle" font-family='"Liberation Serif", "Times New Roman", serif' font-weight="bold" font-size="11.4" fill="#111">T9</text>
<text x="274.39" y="489.2" text-anchor="middle" font-family='"Liberation Serif", "Times New Roman", serif' font-weight="bold" font-size="11.4" fill="#111">T10</text>
<text x="298" y="489.2" text-anchor="middle" font-family='"Liberation Serif", "Times New Roman", serif' font-weight="bold" font-size="11.4" fill="#111">T11</text>
<text x="321.61" y="489.2" text-anchor="middle" font-family='"Liberation Serif", "Times New Roman", serif' font-weight="bold" font-size="11.4" fill="#111">T12</text>
<text x="345.22" y="489.2" text-anchor="middle" font-family='"Liberation Serif", "Times New Roman", serif' font-weight="bold" font-size="11.4" fill="#111">T13</text>
<text x="368.83" y="489.2" text-anchor="middle" font-family='"Liberation Serif", "Times New Roman", serif' font-weight="bold" font-size="11.4" fill="#111">T14</text>
<text x="392.44" y="489.2" text-anchor="middle" font-family='"Liberation Serif", "Times New Roman", serif' font-weight="bold" font-size="11.4" fill="#111">T15</text>
<text x="227" y="505.8" text-anchor="middle" font-family='"Liberation Serif", "Times New Roman", serif' font-weight="bold" font-size="11.5" fill="#111">Treatments</text>
<text transform="translate(21.9 382.2) rotate(-90)" text-anchor="middle" font-family='"Liberation Serif", "Times New Roman", serif' font-weight="bold" font-size="11.75" fill="#111">Zn, Cu and Mn concentration (mg kg<tspan dy="-3.8" font-size="8">-1</tspan><tspan dy="3.8">)</tspan></text>
<text transform="translate(444.7 379.6) rotate(-90)" text-anchor="middle" font-family='"Liberation Serif", "Times New Roman", serif' font-weight="bold" font-size="11.75" fill="#111">Fe concentration (mg kg<tspan dy="-3.8" font-size="8">-1</tspan><tspan dy="3.8">)</tspan></text>
<rect x="187.1" y="273.5" width="22.7" height="5.1" fill="#4472C4"/>
<text x="212.7" y="279.4" text-anchor="start" font-family='"Liberation Serif", "Times New Roman", serif' font-weight="bold" font-size="11.4" fill="#111">Zn</text>
<rect x="233" y="273.5" width="22.6" height="5.1" fill="#ED7D31"/>
<text x="257.9" y="279.4" text-anchor="start" font-family='"Liberation Serif", "Times New Roman", serif' font-weight="bold" font-size="11.4" fill="#111">Cu</text>
<path d="M278.4 275.9H302" stroke="#FFC000" stroke-width="1.8"/>
<text x="304.2" y="279.4" text-anchor="start" font-family='"Liberation Serif", "Times New Roman", serif' font-weight="bold" font-size="11.4" fill="#111">Mn</text>
<path d="M327.4 275.9H350.6" stroke="#A5A5A5" stroke-width="1.5"/>
<text x="353.4" y="279.4" text-anchor="start" font-family='"Liberation Serif", "Times New Roman", serif' font-weight="bold" font-size="11.4" fill="#111">Fe</text>
<text x="61.4" y="355.5" text-anchor="middle" font-family='"Liberation Sans", Arial, sans-serif' font-size="10.3" fill="#000">d</text>
<text x="85.5" y="304.2" text-anchor="middle" font-family='"Liberation Sans", Arial, sans-serif' font-size="10.3" fill="#000">abc</text>
<text x="109" y="316.9" text-anchor="middle" font-family='"Liberation Sans", Arial, sans-serif' font-size="10.3" fill="#000">bc</text>
<text x="132.5" y="337.6" text-anchor="middle" font-family='"Liberation Sans", Arial, sans-serif' font-size="10.3" fill="#000">cd</text>
<text x="156.4" y="330.9" text-anchor="middle" font-family='"Liberation Sans", Arial, sans-serif' font-size="10.3" fill="#000">c</text>
<text x="179.6" y="296.9" text-anchor="middle" font-family='"Liberation Sans", Arial, sans-serif' font-size="10.3" fill="#000">ab</text>
<text x="203.6" y="311.8" text-anchor="middle" font-family='"Liberation Sans", Arial, sans-serif' font-size="10.3" fill="#000">abc</text>
<text x="227.4" y="324.5" text-anchor="middle" font-family='"Liberation Sans", Arial, sans-serif' font-size="10.3" fill="#000">c</text>
<text x="250.7" y="317.3" text-anchor="middle" font-family='"Liberation Sans", Arial, sans-serif' font-size="10.3" fill="#000">bc</text>
<text x="274" y="314.5" text-anchor="middle" font-family='"Liberation Sans", Arial, sans-serif' font-size="10.3" fill="#000">bc</text>
<text x="297.6" y="289.5" text-anchor="middle" font-family='"Liberation Sans", Arial, sans-serif' font-size="10.3" fill="#000">a</text>
<text x="321.5" y="298.5" text-anchor="middle" font-family='"Liberation Sans", Arial, sans-serif' font-size="10.3" fill="#000">ab</text>
<text x="345" y="320.9" text-anchor="middle" font-family='"Liberation Sans", Arial, sans-serif' font-size="10.3" fill="#000">bc</text>
<text x="368.6" y="312.4" text-anchor="middle" font-family='"Liberation Sans", Arial, sans-serif' font-size="10.3" fill="#000">abc</text>
<text x="391.9" y="314.2" text-anchor="middle" font-family='"Liberation Sans", Arial, sans-serif' font-size="10.3" fill="#000">abc</text>
<text x="61.7" y="408.3" text-anchor="middle" font-family='"Liberation Sans", Arial, sans-serif' font-size="10.3" fill="#000">c</text>
<text x="85.2" y="368.5" text-anchor="middle" font-family='"Liberation Sans", Arial, sans-serif' font-size="10.3" fill="#000">bc</text>
<text x="109" y="378.2" text-anchor="middle" font-family='"Liberation Sans", Arial, sans-serif' font-size="10.3" fill="#000">bc</text>
<text x="132.7" y="393.2" text-anchor="middle" font-family='"Liberation Sans", Arial, sans-serif' font-size="10.3" fill="#000">c</text>
<text x="156.4" y="388.3" text-anchor="middle" font-family='"Liberation Sans", Arial, sans-serif' font-size="10.3" fill="#000">c</text>
<text x="179.6" y="358.7" text-anchor="middle" font-family='"Liberation Sans", Arial, sans-serif' font-size="10.3" fill="#000">ab</text>
<text x="203.7" y="368.2" text-anchor="middle" font-family='"Liberation Sans", Arial, sans-serif' font-size="10.3" fill="#000">bc</text>
<text x="227.1" y="376.4" text-anchor="middle" font-family='"Liberation Sans", Arial, sans-serif' font-size="10.3" fill="#000">bc</text>
<text x="250.7" y="380" text-anchor="middle" font-family='"Liberation Sans", Arial, sans-serif' font-size="10.3" fill="#000">bc</text>
<text x="274" y="375.5" text-anchor="middle" font-family='"Liberation Sans", Arial, sans-serif' font-size="10.3" fill="#000">bc</text>
<text x="297.6" y="340.9" text-anchor="middle" font-family='"Liberation Sans", Arial, sans-serif' font-size="10.3" fill="#000">a</text>
<text x="321.5" y="364.5" text-anchor="middle" font-family='"Liberation Sans", Arial, sans-serif' font-size="10.3" fill="#000">b</text>
<text x="345" y="377.8" text-anchor="middle" font-family='"Liberation Sans", Arial, sans-serif' font-size="10.3" fill="#000">bc</text>
<text x="368.9" y="371.8" text-anchor="middle" font-family='"Liberation Sans", Arial, sans-serif' font-size="10.3" fill="#000">bc</text>
<text x="392.2" y="367.3" text-anchor="middle" font-family='"Liberation Sans", Arial, sans-serif' font-size="10.3" fill="#000">bc</text>
<text x="58.1" y="419.9" text-anchor="middle" font-family='"Liberation Sans", Arial, sans-serif' font-size="10.3" fill="#000">e</text>
<text x="82.1" y="410.8" text-anchor="middle" font-family='"Liberation Sans", Arial, sans-serif' font-size="10.3" fill="#000">bcd</text>
<text x="105.6" y="412.3" text-anchor="middle" font-family='"Liberation Sans", Arial, sans-serif' font-size="10.3" fill="#000">cd</text>
<text x="129.2" y="415" text-anchor="middle" font-family='"Liberation Sans", Arial, sans-serif' font-size="10.3" fill="#000">de</text>
<text x="153" y="415" text-anchor="middle" font-family='"Liberation Sans", Arial, sans-serif' font-size="10.3" fill="#000">cde</text>
<text x="176.5" y="406.5" text-anchor="middle" font-family='"Liberation Sans", Arial, sans-serif' font-size="10.3" fill="#000">ab</text>
<text x="200.5" y="411.4" text-anchor="middle" font-family='"Liberation Sans", Arial, sans-serif' font-size="10.3" fill="#000">bcd</text>
<text x="223.4" y="413.2" text-anchor="middle" font-family='"Liberation Sans", Arial, sans-serif' font-size="10.3" fill="#000">cd</text>
<text x="247.1" y="413.2" text-anchor="middle" font-family='"Liberation Sans", Arial, sans-serif' font-size="10.3" fill="#000">cd</text>
<text x="270.7" y="413.2" text-anchor="middle" font-family='"Liberation Sans", Arial, sans-serif' font-size="10.3" fill="#000">cd</text>
<text x="294.5" y="404.1" text-anchor="middle" font-family='"Liberation Sans", Arial, sans-serif' font-size="10.3" fill="#000">a</text>
<text x="317.9" y="406.5" text-anchor="middle" font-family='"Liberation Sans", Arial, sans-serif' font-size="10.3" fill="#000">ab</text>
<text x="341.5" y="410.8" text-anchor="middle" font-family='"Liberation Sans", Arial, sans-serif' font-size="10.3" fill="#000">bcd</text>
<text x="365.5" y="409.5" text-anchor="middle" font-family='"Liberation Sans", Arial, sans-serif' font-size="10.3" fill="#000">bc</text>
<text x="388.6" y="410.1" text-anchor="middle" font-family='"Liberation Sans", Arial, sans-serif' font-size="10.3" fill="#000">bcd</text>
<text x="65" y="456.3" text-anchor="middle" font-family='"Liberation Sans", Arial, sans-serif' font-size="10.3" fill="#000">efg</text>
<text x="88.6" y="451.9" text-anchor="middle" font-family='"Liberation Sans", Arial, sans-serif' font-size="10.3" fill="#000">bcde</text>
<text x="112.2" y="453.2" text-anchor="middle" font-family='"Liberation Sans", Arial, sans-serif' font-size="10.3" fill="#000">de</text>
<text x="136.6" y="455.9" text-anchor="middle" font-family='"Liberation Sans", Arial, sans-serif' font-size="10.3" fill="#000">ef</text>
<text x="159.6" y="454.1" text-anchor="middle" font-family='"Liberation Sans", Arial, sans-serif' font-size="10.3" fill="#000">def</text>
<text x="183.4" y="449.5" text-anchor="middle" font-family='"Liberation Sans", Arial, sans-serif' font-size="10.3" fill="#000">ab</text>
<text x="206.6" y="451.4" text-anchor="middle" font-family='"Liberation Sans", Arial, sans-serif' font-size="10.3" fill="#000">bcd</text>
<text x="229.8" y="455" text-anchor="middle" font-family='"Liberation Sans", Arial, sans-serif' font-size="10.3" fill="#000">ef</text>
<text x="253.9" y="452.3" text-anchor="middle" font-family='"Liberation Sans", Arial, sans-serif' font-size="10.3" fill="#000">cde</text>
<text x="277.5" y="456.3" text-anchor="middle" font-family='"Liberation Sans", Arial, sans-serif' font-size="10.3" fill="#000">ef</text>
<text x="301.3" y="447.7" text-anchor="middle" font-family='"Liberation Sans", Arial, sans-serif' font-size="10.3" fill="#000">a</text>
<text x="324.8" y="449.5" text-anchor="middle" font-family='"Liberation Sans", Arial, sans-serif' font-size="10.3" fill="#000">abc</text>
<text x="348.5" y="452.6" text-anchor="middle" font-family='"Liberation Sans", Arial, sans-serif' font-size="10.3" fill="#000">cde</text>
<text x="371.9" y="451.4" text-anchor="middle" font-family='"Liberation Sans", Arial, sans-serif' font-size="10.3" fill="#000">bcd</text>
<text x="395.6" y="451.4" text-anchor="middle" font-family='"Liberation Sans", Arial, sans-serif' font-size="10.3" fill="#000">bcde</text>
<text x="227" y="544.3" text-anchor="middle" font-family='"Liberation Serif", "Times New Roman", serif' font-size="12.2" fill="#000">(b)</text>
</svg>
</body></html>
